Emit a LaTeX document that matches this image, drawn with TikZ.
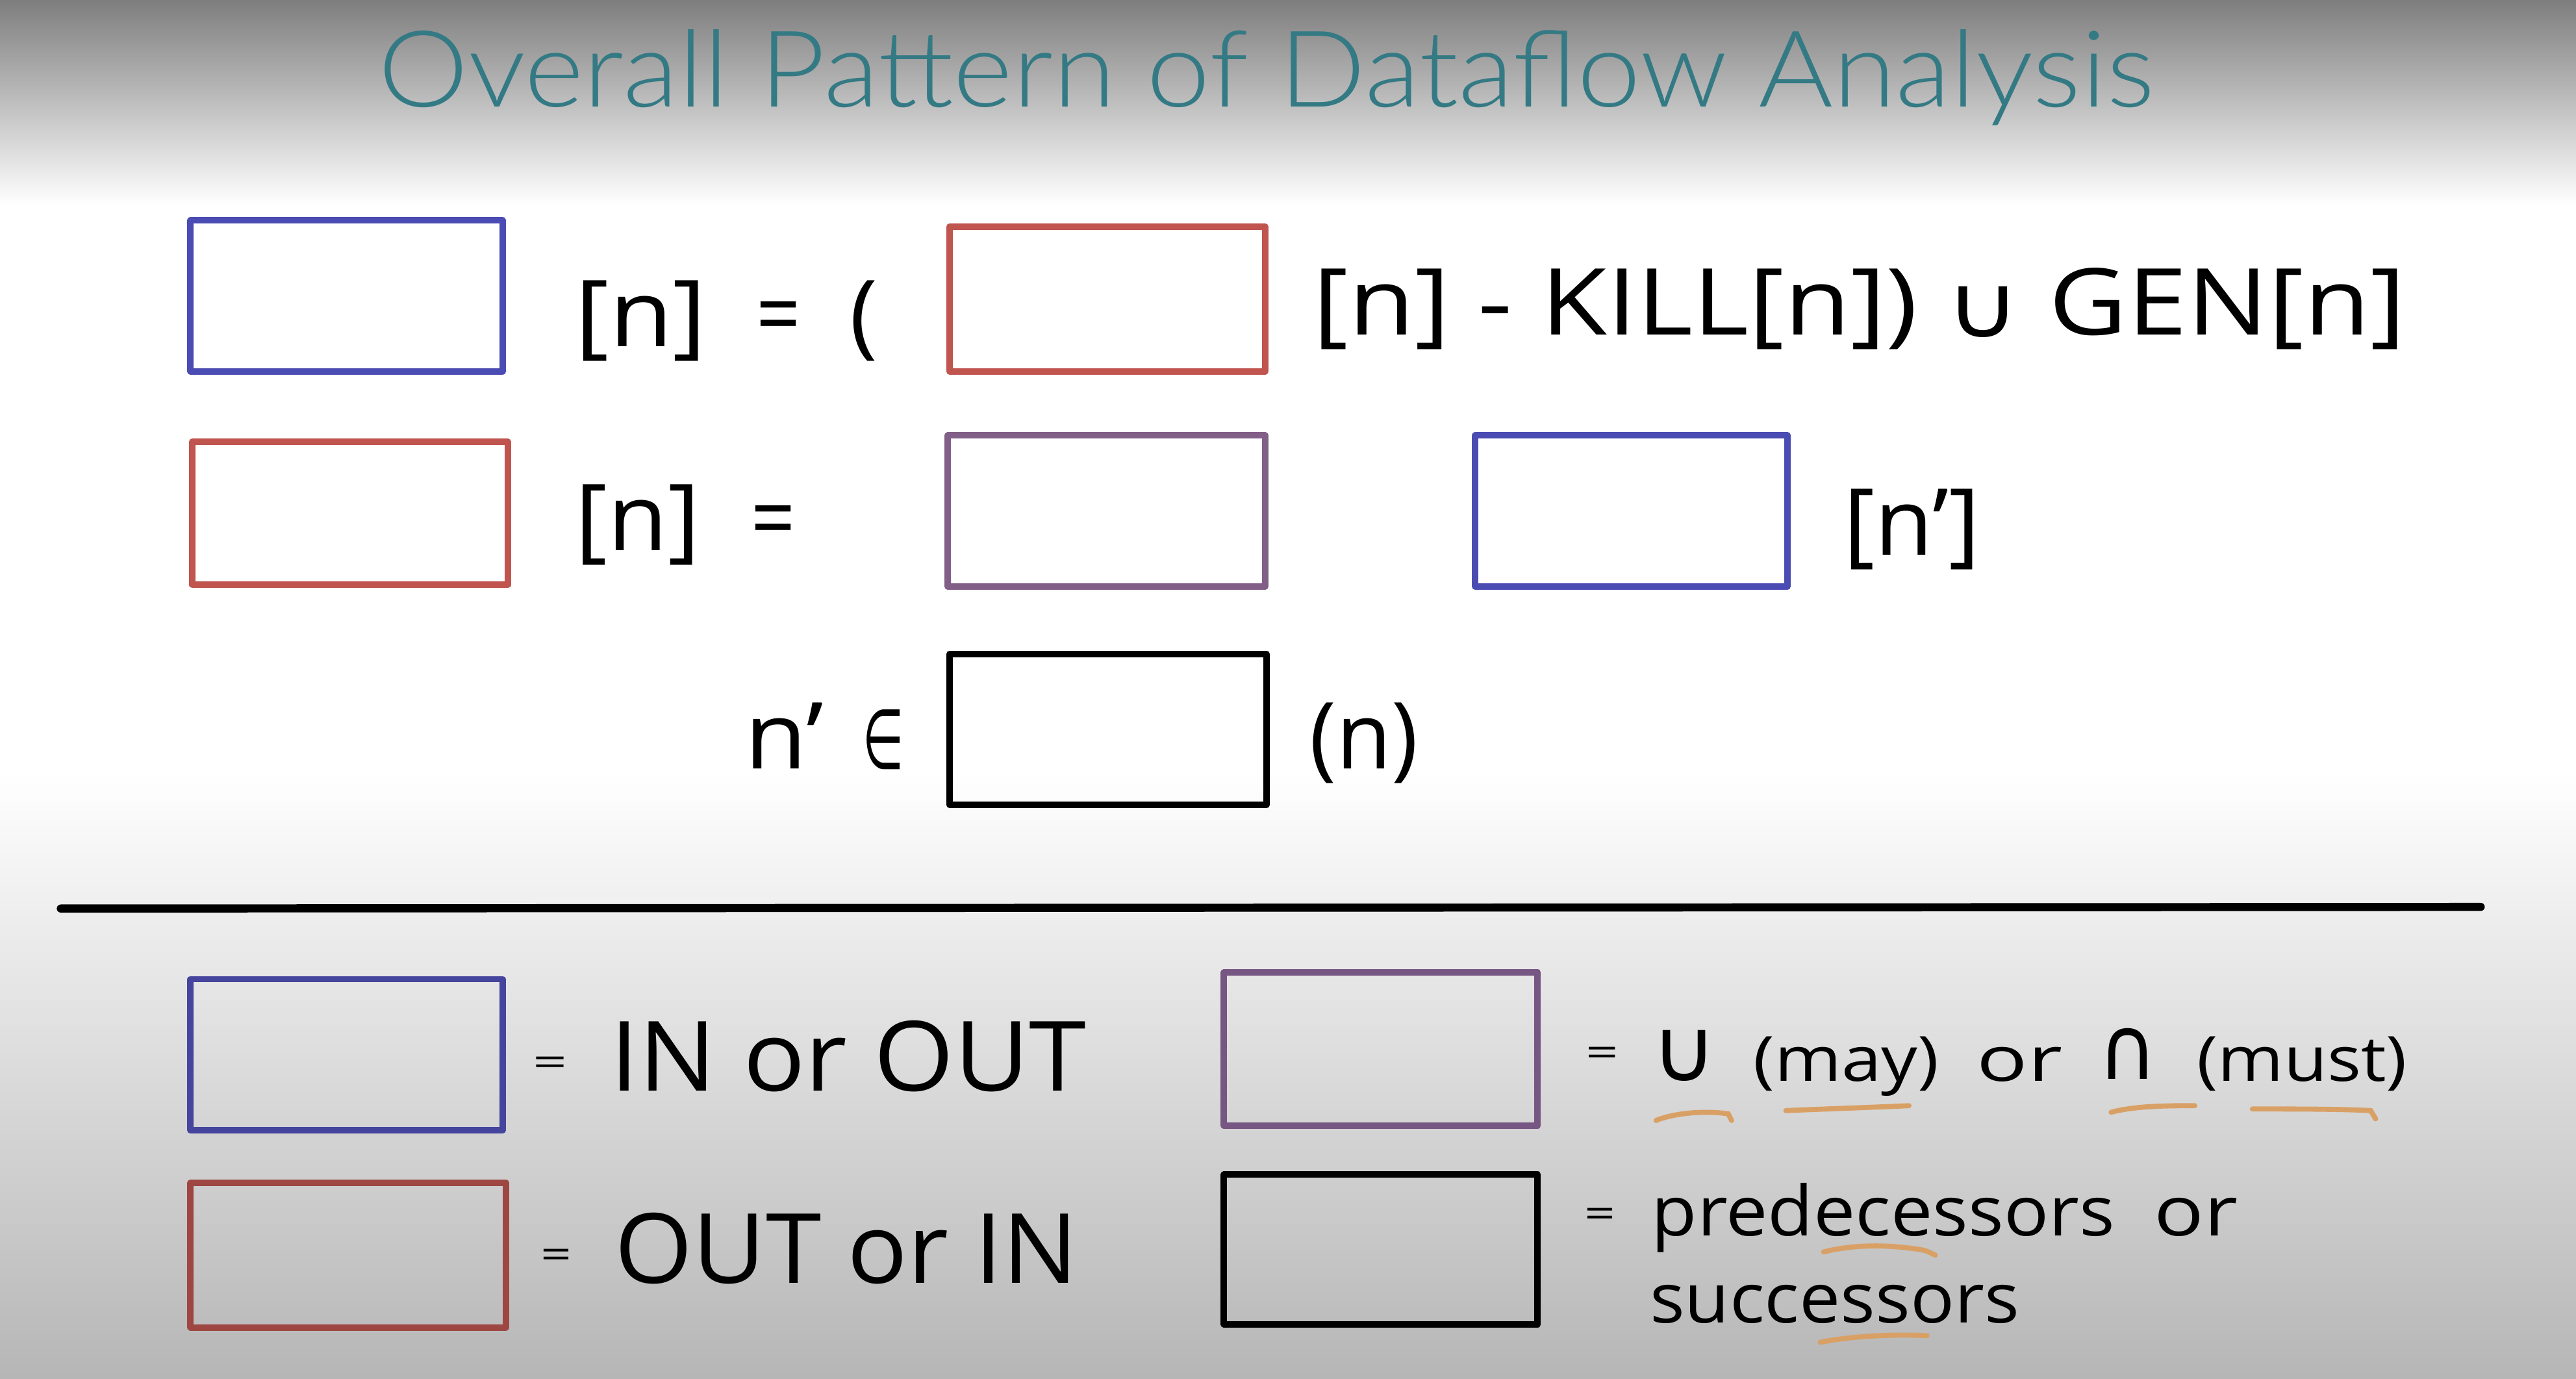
\documentclass[tikz,border=0pt]{standalone}
\usepackage{fontspec}
\setmainfont{Open Sans}
\IfFontExistsTF{Lato Light}{\newfontfamily\titlefont{Lato Light}}{\newfontfamily\titlefont{Lato}}
\newfontfamily\symfont{DejaVu Sans}
\usepackage{graphicx}
\newlength\pxu
\setlength\pxu{0.025cm}
\newcommand\fitw[2]{\resizebox{#1\pxu}{\height}{#2}}
\definecolor{topgray}{HTML}{7E7E7E}
\definecolor{botgray}{HTML}{B6B6B6}
\definecolor{titleteal}{HTML}{347A84}
\definecolor{boxblue}{HTML}{4B4BB4}
\definecolor{boxred}{HTML}{C0544F}
\definecolor{boxpurple}{HTML}{825F87}
\definecolor{legblue}{HTML}{45459E}
\definecolor{legred}{HTML}{9E4742}
\definecolor{legpurple}{HTML}{765682}
\definecolor{hilite}{HTML}{D9A066}
\begin{document}
\begin{tikzpicture}[x=0.025cm,y=0.025cm,
  txt/.style={inner sep=0pt, anchor=base west, text=black},
  eqtxt/.style={txt, font=\fontsize{40}{48}\selectfont},
  legtxt/.style={txt, font=\fontsize{42}{50}\selectfont},
  smalltxt/.style={txt, font=\fontsize{27}{32}\selectfont},
  midtxt/.style={txt, font=\fontsize{30}{36}\selectfont},
  tinyeq/.style={txt, font=\fontsize{17}{20}\selectfont},
  symtxt/.style={txt, font=\symfont\fontsize{38}{44}\selectfont},
  frame/.style={line width=2.8pt, line join=round},
  hl/.style={hilite, line width=2.2pt, line cap=round}
]
% background
\fill[white] (0,0) rectangle (1568,-839);
\shade[top color=topgray, bottom color=white] (0,0) rectangle (1568,-125);
\shade[top color=white, bottom color=botgray] (0,-470) rectangle (1568,-839);
\useasboundingbox (0,0) rectangle (1568,-839);

% title
\node[txt, font=\titlefont\fontsize{46}{52}\selectfont, text=titleteal] (title) at (230,-65)
  {\fitw{1081}{Overall Pattern of Dataflow Analysis}};

% row 1
\draw[frame, boxblue] (116,-134) rectangle (306,-226);
\node[eqtxt] (r1n) at (350,-211) {\fitw{80}{[n]}};
\node[eqtxt] (r1eq) at (460,-211) {\fitw{27}{=}};
\node[eqtxt] (r1par) at (517,-211) {\fitw{17}{(}};
\draw[frame, boxred] (578,-138) rectangle (770,-226);
\node[eqtxt] (r1rest) at (799,-204)
  {\fitw{665}{[n] - KILL[n]) \raisebox{-1pt}{\symfont\fontsize{38}{42}\selectfont ∪} GEN[n]}};

% row 2
\draw[frame, boxred] (117,-269) rectangle (309,-356);
\node[eqtxt] (r2n) at (350,-335) {\fitw{76}{[n]}};
\node[eqtxt] (r2eq) at (457,-335) {\fitw{27}{=}};
\draw[frame, boxpurple] (577,-265) rectangle (770,-357);
\draw[frame, boxblue] (898,-265) rectangle (1088,-357);
\node[eqtxt] (r2np) at (1122,-338) {\fitw{83}{[n']}};

% row 3
\node[eqtxt] (r3n) at (453,-468) {\fitw{48}{n'}};
\node[txt, font=\symfont\fontsize{36}{42}\selectfont] (r3in) at (525,-468) {\fitw{25}{∈}};
\draw[frame, black] (578,-398) rectangle (771,-490);
\node[eqtxt] (r3pn) at (797,-468) {\fitw{66}{(n)}};

% separator
\draw[line width=3.5pt, line cap=round] (37,-553) -- (1510,-552);

% legend
\draw[frame, legblue] (116,-596) rectangle (306,-688);
\node[tinyeq] (l1eq) at (324,-655) {\fitw{21}{=}};
\node[legtxt] (l1t) at (371,-664) {\fitw{290}{IN or OUT}};

\draw[frame, legred] (116,-720) rectangle (308,-808);
\node[tinyeq] (l2eq) at (329,-772) {\fitw{19}{=}};
\node[legtxt] (l2t) at (374,-781) {\fitw{282}{OUT or IN}};

\draw[frame, legpurple] (745,-592) rectangle (936,-685);
\node[tinyeq] (l3eq) at (965,-649) {\fitw{20}{=}};
\node[symtxt] (l3u) at (1005,-658) {\fitw{40}{∪}};
\node[smalltxt] (l3may) at (1067,-658) {\fitw{113}{(may)}};
\node[smalltxt] (l3or) at (1203,-658) {\fitw{52}{or}};
\node[symtxt] (l3cap) at (1277,-657) {\fitw{36}{∩}};
\node[smalltxt] (l3must) at (1337,-658) {\fitw{128}{(must)}};

\draw[frame, black] (745,-715) rectangle (936,-806);
\node[tinyeq] (l4eq) at (964,-747) {\fitw{19}{=}};
\node[midtxt] (l4a) at (1005,-752) {\fitw{282}{predecessors}};
\node[midtxt] (l4b) at (1311,-752) {\fitw{51}{or}};
\node[midtxt] (l4c) at (1004,-805) {\fitw{225}{successors}};

% orange underlines
\draw[hl] (1008,-682) .. controls (1020,-677) and (1040,-676) .. (1052,-678) -- (1054,-682);
\draw[hl] (1087,-676) .. controls (1110,-675) and (1140,-674) .. (1162,-673);
\draw[hl] (1285,-677) .. controls (1300,-673) and (1320,-673) .. (1336,-673);
\draw[hl] (1371,-675) .. controls (1395,-675) and (1425,-675) .. (1443,-676) -- (1446,-681);
\draw[hl] (1110,-762) .. controls (1130,-757) and (1150,-758) .. (1165,-760) .. controls (1172,-761) .. (1178,-764);
\draw[hl] (1108,-817) .. controls (1128,-813) and (1155,-812) .. (1173,-813);
\end{tikzpicture}
\end{document}
